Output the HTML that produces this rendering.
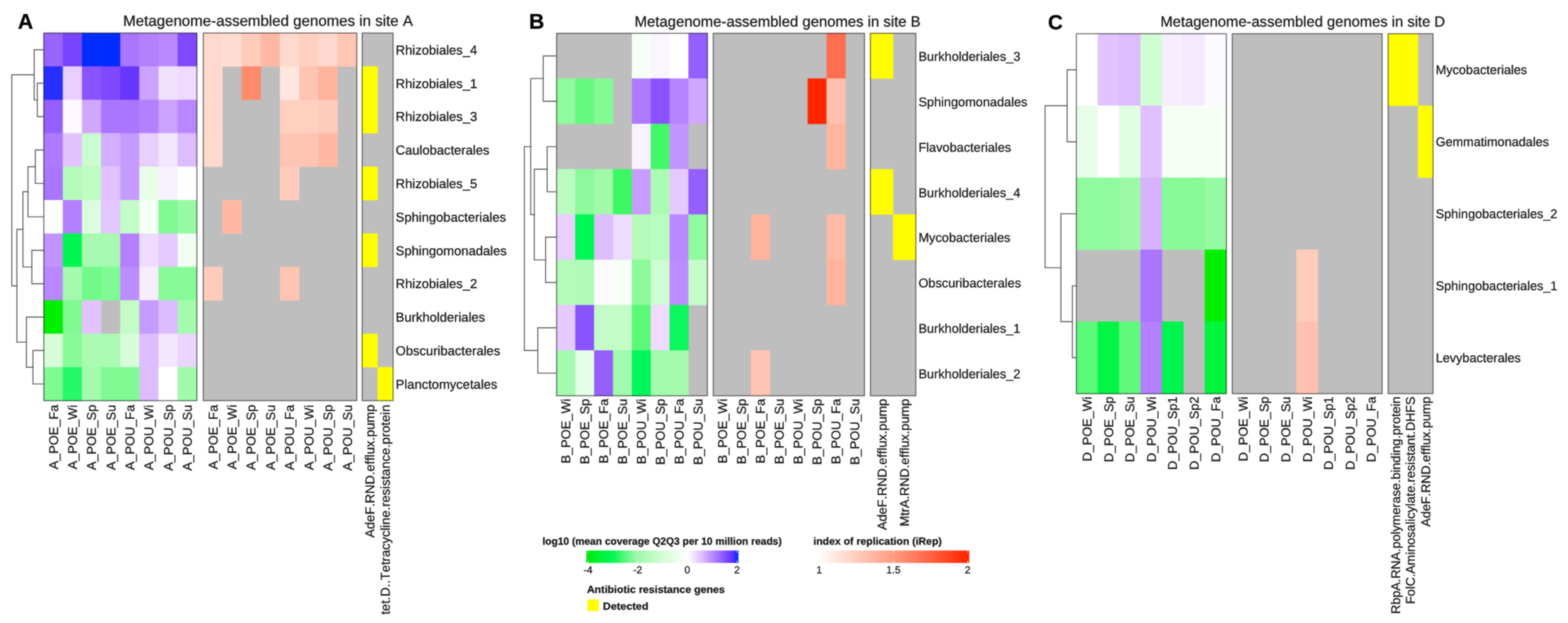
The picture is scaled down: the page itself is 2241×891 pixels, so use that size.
<!DOCTYPE html>
<html><head><meta charset="utf-8"><title>Metagenome-assembled genomes heatmaps</title>
<style>
html,body{margin:0;padding:0;background:#fff;}
body{width:2241px;height:891px;overflow:hidden;}
svg{display:block;font-family:"Liberation Sans",Arial,Helvetica,sans-serif;font-kerning:none;font-variant-ligatures:none;text-rendering:geometricPrecision;}
</style></head><body>
<svg width="2241" height="891" viewBox="0 0 2241 891">
<defs>
<linearGradient id="g1" x1="0" x2="1" y1="0" y2="0"><stop offset="0.0000" stop-color="#00e408"/><stop offset="0.0667" stop-color="#00f028"/><stop offset="0.1333" stop-color="#00f546"/><stop offset="0.1833" stop-color="#0af654"/><stop offset="0.2333" stop-color="#40f870"/><stop offset="0.2833" stop-color="#74f98e"/><stop offset="0.3333" stop-color="#9cfaa8"/><stop offset="0.5000" stop-color="#d2fdd4"/><stop offset="0.6667" stop-color="#ffffff"/><stop offset="0.7500" stop-color="#e2c4ff"/><stop offset="0.8333" stop-color="#b888ff"/><stop offset="0.9167" stop-color="#824cff"/><stop offset="0.9583" stop-color="#6232ff"/><stop offset="0.9883" stop-color="#142cff"/><stop offset="1.0000" stop-color="#002cff"/></linearGradient>
<linearGradient id="g2" x1="0" x2="1" y1="0" y2="0"><stop offset="0.0000" stop-color="#ffffff"/><stop offset="0.2500" stop-color="#ffcebe"/><stop offset="0.5000" stop-color="#ff9c82"/><stop offset="0.7500" stop-color="#ff6242"/><stop offset="0.9500" stop-color="#ff2c08"/><stop offset="1.0000" stop-color="#ff2600"/></linearGradient>
</defs>
<filter id="soft" x="0" y="0" width="2241" height="891" filterUnits="userSpaceOnUse" color-interpolation-filters="sRGB"><feGaussianBlur in="SourceGraphic" stdDeviation="0.8" result="b"/><feComposite in="b" in2="SourceGraphic" operator="arithmetic" k1="0" k2="0.6" k3="0.4" k4="0"/></filter>
<g filter="url(#soft)">
<rect x="-10" y="-10" width="2261" height="911" fill="#ffffff"/>
<rect x="62.60" y="47.30" width="218.80" height="525.70" fill="#bebebe"/>
<rect x="62.40" y="47.10" width="27.75" height="48.19" fill="#9a64ff"/>
<rect x="89.75" y="47.10" width="27.75" height="48.19" fill="#7a44ff"/>
<rect x="117.10" y="47.10" width="27.75" height="48.19" fill="#002cff"/>
<rect x="144.45" y="47.10" width="27.75" height="48.19" fill="#002cff"/>
<rect x="171.80" y="47.10" width="27.75" height="48.19" fill="#aa75ff"/>
<rect x="199.15" y="47.10" width="27.75" height="48.19" fill="#b480ff"/>
<rect x="226.50" y="47.10" width="27.75" height="48.19" fill="#ba89ff"/>
<rect x="253.85" y="47.10" width="27.75" height="48.19" fill="#8048ff"/>
<rect x="62.40" y="94.89" width="27.75" height="48.19" fill="#272eff"/>
<rect x="89.75" y="94.89" width="27.75" height="48.19" fill="#e8cfff"/>
<rect x="117.10" y="94.89" width="27.75" height="48.19" fill="#8a53ff"/>
<rect x="144.45" y="94.89" width="27.75" height="48.19" fill="#8048ff"/>
<rect x="171.80" y="94.89" width="27.75" height="48.19" fill="#6836ff"/>
<rect x="199.15" y="94.89" width="27.75" height="48.19" fill="#cba2ff"/>
<rect x="226.50" y="94.89" width="27.75" height="48.19" fill="#f0e1ff"/>
<rect x="253.85" y="94.89" width="27.75" height="48.19" fill="#eedbff"/>
<rect x="62.40" y="142.68" width="27.75" height="48.19" fill="#955eff"/>
<rect x="89.75" y="142.68" width="27.75" height="48.19" fill="#fcf9ff"/>
<rect x="117.10" y="142.68" width="27.75" height="48.19" fill="#d0a8ff"/>
<rect x="144.45" y="142.68" width="27.75" height="48.19" fill="#aa75ff"/>
<rect x="171.80" y="142.68" width="27.75" height="48.19" fill="#aa75ff"/>
<rect x="199.15" y="142.68" width="27.75" height="48.19" fill="#b480ff"/>
<rect x="226.50" y="142.68" width="27.75" height="48.19" fill="#cba2ff"/>
<rect x="253.85" y="142.68" width="27.75" height="48.19" fill="#b987ff"/>
<rect x="62.40" y="190.47" width="27.75" height="48.19" fill="#af7aff"/>
<rect x="89.75" y="190.47" width="27.75" height="48.19" fill="#e2c3ff"/>
<rect x="117.10" y="190.47" width="27.75" height="48.19" fill="#cafdce"/>
<rect x="144.45" y="190.47" width="27.75" height="48.19" fill="#d4afff"/>
<rect x="171.80" y="190.47" width="27.75" height="48.19" fill="#c69bff"/>
<rect x="199.15" y="190.47" width="27.75" height="48.19" fill="#e8cfff"/>
<rect x="226.50" y="190.47" width="27.75" height="48.19" fill="#f3e7ff"/>
<rect x="253.85" y="190.47" width="27.75" height="48.19" fill="#ddbcff"/>
<rect x="62.40" y="238.26" width="27.75" height="48.19" fill="#aa75ff"/>
<rect x="89.75" y="238.26" width="27.75" height="48.19" fill="#b4fbbb"/>
<rect x="117.10" y="238.26" width="27.75" height="48.19" fill="#befcc3"/>
<rect x="144.45" y="238.26" width="27.75" height="48.19" fill="#e2c3ff"/>
<rect x="171.80" y="238.26" width="27.75" height="48.19" fill="#c69bff"/>
<rect x="199.15" y="238.26" width="27.75" height="48.19" fill="#e8feea"/>
<rect x="226.50" y="238.26" width="27.75" height="48.19" fill="#f8f1ff"/>
<rect x="253.85" y="238.26" width="27.75" height="48.19" fill="#fdfffd"/>
<rect x="62.40" y="286.05" width="27.75" height="48.19" fill="#fafffb"/>
<rect x="89.75" y="286.05" width="27.75" height="48.19" fill="#b480ff"/>
<rect x="117.10" y="286.05" width="27.75" height="48.19" fill="#dbfddd"/>
<rect x="144.45" y="286.05" width="27.75" height="48.19" fill="#e3c5ff"/>
<rect x="171.80" y="286.05" width="27.75" height="48.19" fill="#c3fcc7"/>
<rect x="199.15" y="286.05" width="27.75" height="48.19" fill="#f6fff6"/>
<rect x="226.50" y="286.05" width="27.75" height="48.19" fill="#80fa92"/>
<rect x="253.85" y="286.05" width="27.75" height="48.19" fill="#98faa4"/>
<rect x="62.40" y="333.85" width="27.75" height="48.19" fill="#c294ff"/>
<rect x="89.75" y="333.85" width="27.75" height="48.19" fill="#00f64e"/>
<rect x="117.10" y="333.85" width="27.75" height="48.19" fill="#a7fab0"/>
<rect x="144.45" y="333.85" width="27.75" height="48.19" fill="#a7fab0"/>
<rect x="171.80" y="333.85" width="27.75" height="48.19" fill="#b480ff"/>
<rect x="199.15" y="333.85" width="27.75" height="48.19" fill="#eedbff"/>
<rect x="226.50" y="333.85" width="27.75" height="48.19" fill="#e5c9ff"/>
<rect x="253.85" y="333.85" width="27.75" height="48.19" fill="#f2fef2"/>
<rect x="62.40" y="381.64" width="27.75" height="48.19" fill="#b987ff"/>
<rect x="89.75" y="381.64" width="27.75" height="48.19" fill="#a5faae"/>
<rect x="117.10" y="381.64" width="27.75" height="48.19" fill="#72fa88"/>
<rect x="144.45" y="381.64" width="27.75" height="48.19" fill="#80fa92"/>
<rect x="171.80" y="381.64" width="27.75" height="48.19" fill="#bd8dff"/>
<rect x="199.15" y="381.64" width="27.75" height="48.19" fill="#f6edff"/>
<rect x="226.50" y="381.64" width="27.75" height="48.19" fill="#88fa98"/>
<rect x="253.85" y="381.64" width="27.75" height="48.19" fill="#88fa98"/>
<rect x="62.40" y="429.43" width="27.75" height="48.19" fill="#00f000"/>
<rect x="89.75" y="429.43" width="27.75" height="48.19" fill="#80fa92"/>
<rect x="117.10" y="429.43" width="27.75" height="48.19" fill="#e2c3ff"/>
<rect x="171.80" y="429.43" width="27.75" height="48.19" fill="#c3fcc7"/>
<rect x="199.15" y="429.43" width="27.75" height="48.19" fill="#c69bff"/>
<rect x="226.50" y="429.43" width="27.75" height="48.19" fill="#dcbbff"/>
<rect x="253.85" y="429.43" width="27.75" height="48.19" fill="#a5faae"/>
<rect x="62.40" y="477.22" width="27.75" height="48.19" fill="#d6fdd8"/>
<rect x="89.75" y="477.22" width="27.75" height="48.19" fill="#88fa98"/>
<rect x="117.10" y="477.22" width="27.75" height="48.19" fill="#abfbb3"/>
<rect x="144.45" y="477.22" width="27.75" height="48.19" fill="#abfbb3"/>
<rect x="171.80" y="477.22" width="27.75" height="48.19" fill="#d6fdd8"/>
<rect x="199.15" y="477.22" width="27.75" height="48.19" fill="#ddbcff"/>
<rect x="226.50" y="477.22" width="27.75" height="48.19" fill="#f3e7ff"/>
<rect x="253.85" y="477.22" width="27.75" height="48.19" fill="#ebd5ff"/>
<rect x="62.40" y="525.01" width="27.75" height="48.19" fill="#80fa92"/>
<rect x="89.75" y="525.01" width="27.75" height="48.19" fill="#26f869"/>
<rect x="117.10" y="525.01" width="27.75" height="48.19" fill="#a5faae"/>
<rect x="144.45" y="525.01" width="27.75" height="48.19" fill="#80fa92"/>
<rect x="171.80" y="525.01" width="27.75" height="48.19" fill="#80fa92"/>
<rect x="199.15" y="525.01" width="27.75" height="48.19" fill="#ddbcff"/>
<rect x="226.50" y="525.01" width="27.75" height="48.19" fill="#ffffff"/>
<rect x="253.85" y="525.01" width="27.75" height="48.19" fill="#a0faaa"/>
<rect x="62.60" y="47.30" width="218.80" height="525.70" fill="none" stroke="#000" stroke-opacity="0.6" stroke-width="1.4"/>
<rect x="290.50" y="47.30" width="219.50" height="525.70" fill="#bebebe"/>
<rect x="290.30" y="47.10" width="27.84" height="48.19" fill="#ffd9cd"/>
<rect x="317.74" y="47.10" width="27.84" height="48.19" fill="#ffddd2"/>
<rect x="345.18" y="47.10" width="27.84" height="48.19" fill="#ffccbb"/>
<rect x="372.61" y="47.10" width="27.84" height="48.19" fill="#ffb9a3"/>
<rect x="400.05" y="47.10" width="27.84" height="48.19" fill="#ffd9cd"/>
<rect x="427.49" y="47.10" width="27.84" height="48.19" fill="#ffd0c0"/>
<rect x="454.93" y="47.10" width="27.84" height="48.19" fill="#ffd9cd"/>
<rect x="482.36" y="47.10" width="27.84" height="48.19" fill="#ffc6b4"/>
<rect x="290.30" y="94.89" width="27.84" height="48.19" fill="#ffd9cd"/>
<rect x="345.18" y="94.89" width="27.84" height="48.19" fill="#ff8a6c"/>
<rect x="400.05" y="94.89" width="27.84" height="48.19" fill="#ffe7de"/>
<rect x="427.49" y="94.89" width="27.84" height="48.19" fill="#ffc4b2"/>
<rect x="454.93" y="94.89" width="27.84" height="48.19" fill="#ffb39c"/>
<rect x="290.30" y="142.68" width="27.84" height="48.19" fill="#ffd9cd"/>
<rect x="400.05" y="142.68" width="27.84" height="48.19" fill="#ffd0c0"/>
<rect x="427.49" y="142.68" width="27.84" height="48.19" fill="#ffd0c0"/>
<rect x="454.93" y="142.68" width="27.84" height="48.19" fill="#ffccbb"/>
<rect x="290.30" y="190.47" width="27.84" height="48.19" fill="#ffd9cd"/>
<rect x="400.05" y="190.47" width="27.84" height="48.19" fill="#ffc4b2"/>
<rect x="427.49" y="190.47" width="27.84" height="48.19" fill="#ffc4b2"/>
<rect x="454.93" y="190.47" width="27.84" height="48.19" fill="#ffb9a3"/>
<rect x="400.05" y="238.26" width="27.84" height="48.19" fill="#ffccbb"/>
<rect x="317.74" y="286.05" width="27.84" height="48.19" fill="#ffb9a3"/>
<rect x="290.30" y="381.64" width="27.84" height="48.19" fill="#ffccbb"/>
<rect x="400.05" y="381.64" width="27.84" height="48.19" fill="#ffc4b2"/>
<rect x="290.50" y="47.30" width="219.50" height="525.70" fill="none" stroke="#000" stroke-opacity="0.6" stroke-width="1.4"/>
<rect x="517.60" y="47.30" width="44.20" height="525.70" fill="#bebebe"/>
<rect x="517.40" y="94.89" width="22.50" height="48.19" fill="#fffd00"/>
<rect x="517.40" y="142.68" width="22.50" height="48.19" fill="#fffd00"/>
<rect x="517.40" y="238.26" width="22.50" height="48.19" fill="#fffd00"/>
<rect x="517.40" y="333.85" width="22.50" height="48.19" fill="#fffd00"/>
<rect x="517.40" y="477.22" width="22.50" height="48.19" fill="#fffd00"/>
<rect x="539.50" y="525.01" width="22.50" height="48.19" fill="#fffd00"/>
<rect x="517.60" y="47.30" width="44.20" height="525.70" fill="none" stroke="#000" stroke-opacity="0.6" stroke-width="1.4"/>
<path d="M62.60 118.99 L53.40 118.99 L53.40 166.78 L62.60 166.78" fill="none" stroke="#555555" stroke-width="1.4" stroke-linecap="square"/>
<path d="M62.60 71.20 L48.80 71.20 L48.80 142.88 L53.40 142.88" fill="none" stroke="#555555" stroke-width="1.4" stroke-linecap="square"/>
<path d="M62.60 214.57 L50.50 214.57 L50.50 262.36 L62.60 262.36" fill="none" stroke="#555555" stroke-width="1.4" stroke-linecap="square"/>
<path d="M50.50 238.46 L40.00 238.46 L40.00 310.15 L62.60 310.15" fill="none" stroke="#555555" stroke-width="1.4" stroke-linecap="square"/>
<path d="M62.60 357.94 L45.50 357.94 L45.50 405.73 L62.60 405.73" fill="none" stroke="#555555" stroke-width="1.4" stroke-linecap="square"/>
<path d="M40.00 274.31 L32.70 274.31 L32.70 381.84 L45.50 381.84" fill="none" stroke="#555555" stroke-width="1.4" stroke-linecap="square"/>
<path d="M62.60 501.31 L47.10 501.31 L47.10 549.10 L62.60 549.10" fill="none" stroke="#555555" stroke-width="1.4" stroke-linecap="square"/>
<path d="M62.60 453.52 L37.70 453.52 L37.70 525.21 L47.10 525.21" fill="none" stroke="#555555" stroke-width="1.4" stroke-linecap="square"/>
<path d="M32.70 328.07 L24.20 328.07 L24.20 489.37 L37.70 489.37" fill="none" stroke="#555555" stroke-width="1.4" stroke-linecap="square"/>
<path d="M48.80 107.04 L16.80 107.04 L16.80 408.72 L24.20 408.72" fill="none" stroke="#555555" stroke-width="1.4" stroke-linecap="square"/>
<text x="565.60" y="77.80" font-size="18.55" text-anchor="start" fill="#141414" stroke="#141414" stroke-width="0.3">Rhizobiales_4</text>
<text x="565.60" y="125.59" font-size="18.55" text-anchor="start" fill="#141414" stroke="#141414" stroke-width="0.3">Rhizobiales_1</text>
<text x="565.60" y="173.38" font-size="18.55" text-anchor="start" fill="#141414" stroke="#141414" stroke-width="0.3">Rhizobiales_3</text>
<text x="565.60" y="221.17" font-size="18.55" text-anchor="start" fill="#141414" stroke="#141414" stroke-width="0.3">Caulobacterales</text>
<text x="565.60" y="268.96" font-size="18.55" text-anchor="start" fill="#141414" stroke="#141414" stroke-width="0.3">Rhizobiales_5</text>
<text x="565.60" y="316.75" font-size="18.55" text-anchor="start" fill="#141414" stroke="#141414" stroke-width="0.3">Sphingobacteriales</text>
<text x="565.60" y="364.54" font-size="18.55" text-anchor="start" fill="#141414" stroke="#141414" stroke-width="0.3">Sphingomonadales</text>
<text x="565.60" y="412.33" font-size="18.55" text-anchor="start" fill="#141414" stroke="#141414" stroke-width="0.3">Rhizobiales_2</text>
<text x="565.60" y="460.12" font-size="18.55" text-anchor="start" fill="#141414" stroke="#141414" stroke-width="0.3">Burkholderiales</text>
<text x="565.60" y="507.91" font-size="18.55" text-anchor="start" fill="#141414" stroke="#141414" stroke-width="0.3">Obscuribacterales</text>
<text x="565.60" y="555.70" font-size="18.55" text-anchor="start" fill="#141414" stroke="#141414" stroke-width="0.3">Planctomycetales</text>
<text x="82.58" y="578.80" font-size="18.3" text-anchor="end" transform="rotate(-90 82.58 578.80)" fill="#141414" stroke="#141414" stroke-width="0.3">A_POE_Fa</text>
<text x="109.92" y="578.80" font-size="18.3" text-anchor="end" transform="rotate(-90 109.92 578.80)" fill="#141414" stroke="#141414" stroke-width="0.3">A_POE_Wi</text>
<text x="137.28" y="578.80" font-size="18.3" text-anchor="end" transform="rotate(-90 137.28 578.80)" fill="#141414" stroke="#141414" stroke-width="0.3">A_POE_Sp</text>
<text x="164.62" y="578.80" font-size="18.3" text-anchor="end" transform="rotate(-90 164.62 578.80)" fill="#141414" stroke="#141414" stroke-width="0.3">A_POE_Su</text>
<text x="191.97" y="578.80" font-size="18.3" text-anchor="end" transform="rotate(-90 191.97 578.80)" fill="#141414" stroke="#141414" stroke-width="0.3">A_POU_Fa</text>
<text x="219.32" y="578.80" font-size="18.3" text-anchor="end" transform="rotate(-90 219.32 578.80)" fill="#141414" stroke="#141414" stroke-width="0.3">A_POU_Wi</text>
<text x="246.67" y="578.80" font-size="18.3" text-anchor="end" transform="rotate(-90 246.67 578.80)" fill="#141414" stroke="#141414" stroke-width="0.3">A_POU_Sp</text>
<text x="274.02" y="578.80" font-size="18.3" text-anchor="end" transform="rotate(-90 274.02 578.80)" fill="#141414" stroke="#141414" stroke-width="0.3">A_POU_Su</text>
<text x="310.52" y="578.80" font-size="18.3" text-anchor="end" transform="rotate(-90 310.52 578.80)" fill="#141414" stroke="#141414" stroke-width="0.3">A_POE_Fa</text>
<text x="337.96" y="578.80" font-size="18.3" text-anchor="end" transform="rotate(-90 337.96 578.80)" fill="#141414" stroke="#141414" stroke-width="0.3">A_POE_Wi</text>
<text x="365.39" y="578.80" font-size="18.3" text-anchor="end" transform="rotate(-90 365.39 578.80)" fill="#141414" stroke="#141414" stroke-width="0.3">A_POE_Sp</text>
<text x="392.83" y="578.80" font-size="18.3" text-anchor="end" transform="rotate(-90 392.83 578.80)" fill="#141414" stroke="#141414" stroke-width="0.3">A_POE_Su</text>
<text x="420.27" y="578.80" font-size="18.3" text-anchor="end" transform="rotate(-90 420.27 578.80)" fill="#141414" stroke="#141414" stroke-width="0.3">A_POU_Fa</text>
<text x="447.71" y="578.80" font-size="18.3" text-anchor="end" transform="rotate(-90 447.71 578.80)" fill="#141414" stroke="#141414" stroke-width="0.3">A_POU_Wi</text>
<text x="475.14" y="578.80" font-size="18.3" text-anchor="end" transform="rotate(-90 475.14 578.80)" fill="#141414" stroke="#141414" stroke-width="0.3">A_POU_Sp</text>
<text x="502.58" y="578.80" font-size="18.3" text-anchor="end" transform="rotate(-90 502.58 578.80)" fill="#141414" stroke="#141414" stroke-width="0.3">A_POU_Su</text>
<text x="534.95" y="578.80" font-size="18.5" text-anchor="end" transform="rotate(-90 534.95 578.80)" fill="#141414" stroke="#141414" stroke-width="0.3">AdeF.RND.efflux.pump</text>
<text x="557.05" y="578.80" font-size="18.5" text-anchor="end" transform="rotate(-90 557.05 578.80)" fill="#141414" stroke="#141414" stroke-width="0.3">tet.D..Tetracycline.resistance.protein</text>
<text x="176.10" y="37.10" font-size="21.6" text-anchor="start" textLength="414.0" lengthAdjust="spacingAndGlyphs" fill="#141414" stroke="#141414" stroke-width="0.3">Metagenome-assembled genomes in site A</text>
<text x="25.50" y="41.30" font-size="30.4" text-anchor="start" font-weight="bold" fill="#000" stroke="#000" stroke-width="0.3">A</text>
<rect x="795.50" y="47.60" width="215.50" height="518.40" fill="#bebebe"/>
<rect x="903.05" y="47.40" width="27.34" height="65.20" fill="#f6fff6"/>
<rect x="929.99" y="47.40" width="27.34" height="65.20" fill="#faf5ff"/>
<rect x="956.92" y="47.40" width="27.34" height="65.20" fill="#ffffff"/>
<rect x="983.86" y="47.40" width="27.34" height="65.20" fill="#955eff"/>
<rect x="795.30" y="112.20" width="27.34" height="65.20" fill="#90fa9e"/>
<rect x="822.24" y="112.20" width="27.34" height="65.20" fill="#66f980"/>
<rect x="849.17" y="112.20" width="27.34" height="65.20" fill="#84fa95"/>
<rect x="903.05" y="112.20" width="27.34" height="65.20" fill="#af7aff"/>
<rect x="929.99" y="112.20" width="27.34" height="65.20" fill="#8a53ff"/>
<rect x="956.92" y="112.20" width="27.34" height="65.20" fill="#b784ff"/>
<rect x="983.86" y="112.20" width="27.34" height="65.20" fill="#d0a8ff"/>
<rect x="903.05" y="177.00" width="27.34" height="65.20" fill="#f9f3ff"/>
<rect x="929.99" y="177.00" width="27.34" height="65.20" fill="#42f868"/>
<rect x="956.92" y="177.00" width="27.34" height="65.20" fill="#c294ff"/>
<rect x="795.30" y="241.80" width="27.34" height="65.20" fill="#bcfcc1"/>
<rect x="822.24" y="241.80" width="27.34" height="65.20" fill="#8cfa9b"/>
<rect x="849.17" y="241.80" width="27.34" height="65.20" fill="#a0faaa"/>
<rect x="876.11" y="241.80" width="27.34" height="65.20" fill="#3cf864"/>
<rect x="903.05" y="241.80" width="27.34" height="65.20" fill="#c89dff"/>
<rect x="929.99" y="241.80" width="27.34" height="65.20" fill="#acfbb4"/>
<rect x="956.92" y="241.80" width="27.34" height="65.20" fill="#e5c9ff"/>
<rect x="983.86" y="241.80" width="27.34" height="65.20" fill="#955eff"/>
<rect x="795.30" y="306.60" width="27.34" height="65.20" fill="#e8cfff"/>
<rect x="822.24" y="306.60" width="27.34" height="65.20" fill="#00f756"/>
<rect x="849.17" y="306.60" width="27.34" height="65.20" fill="#ddbcff"/>
<rect x="876.11" y="306.60" width="27.34" height="65.20" fill="#eedbff"/>
<rect x="903.05" y="306.60" width="27.34" height="65.20" fill="#b4fbbb"/>
<rect x="929.99" y="306.60" width="27.34" height="65.20" fill="#b9fcbf"/>
<rect x="956.92" y="306.60" width="27.34" height="65.20" fill="#ba89ff"/>
<rect x="983.86" y="306.60" width="27.34" height="65.20" fill="#90fa9e"/>
<rect x="795.30" y="371.40" width="27.34" height="65.20" fill="#b4fbbb"/>
<rect x="822.24" y="371.40" width="27.34" height="65.20" fill="#affbb7"/>
<rect x="849.17" y="371.40" width="27.34" height="65.20" fill="#fdfbff"/>
<rect x="876.11" y="371.40" width="27.34" height="65.20" fill="#f6fff6"/>
<rect x="903.05" y="371.40" width="27.34" height="65.20" fill="#8cfa9b"/>
<rect x="929.99" y="371.40" width="27.34" height="65.20" fill="#cdfdd0"/>
<rect x="956.92" y="371.40" width="27.34" height="65.20" fill="#bd8dff"/>
<rect x="983.86" y="371.40" width="27.34" height="65.20" fill="#c6fcca"/>
<rect x="795.30" y="436.20" width="27.34" height="65.20" fill="#e5c9ff"/>
<rect x="822.24" y="436.20" width="27.34" height="65.20" fill="#8a53ff"/>
<rect x="849.17" y="436.20" width="27.34" height="65.20" fill="#c3fcc7"/>
<rect x="876.11" y="436.20" width="27.34" height="65.20" fill="#c3fcc7"/>
<rect x="903.05" y="436.20" width="27.34" height="65.20" fill="#5af978"/>
<rect x="929.99" y="436.20" width="27.34" height="65.20" fill="#eedbff"/>
<rect x="956.92" y="436.20" width="27.34" height="65.20" fill="#0cf75c"/>
<rect x="795.30" y="501.00" width="27.34" height="65.20" fill="#a5faae"/>
<rect x="822.24" y="501.00" width="27.34" height="65.20" fill="#e4fee5"/>
<rect x="849.17" y="501.00" width="27.34" height="65.20" fill="#955eff"/>
<rect x="876.11" y="501.00" width="27.34" height="65.20" fill="#a2faac"/>
<rect x="903.05" y="501.00" width="27.34" height="65.20" fill="#00f65a"/>
<rect x="929.99" y="501.00" width="27.34" height="65.20" fill="#a2faac"/>
<rect x="956.92" y="501.00" width="27.34" height="65.20" fill="#a5faae"/>
<rect x="795.50" y="47.60" width="215.50" height="518.40" fill="none" stroke="#000" stroke-opacity="0.6" stroke-width="1.4"/>
<rect x="1019.40" y="47.60" width="216.10" height="518.40" fill="#bebebe"/>
<rect x="1181.27" y="47.40" width="27.41" height="65.20" fill="#ff6f4f"/>
<rect x="1154.26" y="112.20" width="27.41" height="65.20" fill="#ff2600"/>
<rect x="1181.27" y="112.20" width="27.41" height="65.20" fill="#ffc1ad"/>
<rect x="1181.27" y="177.00" width="27.41" height="65.20" fill="#ffb59e"/>
<rect x="1073.22" y="306.60" width="27.41" height="65.20" fill="#ffb39c"/>
<rect x="1181.27" y="306.60" width="27.41" height="65.20" fill="#ffbba6"/>
<rect x="1181.27" y="371.40" width="27.41" height="65.20" fill="#ffb39c"/>
<rect x="1073.22" y="501.00" width="27.41" height="65.20" fill="#ffc4b2"/>
<rect x="1019.40" y="47.60" width="216.10" height="518.40" fill="none" stroke="#000" stroke-opacity="0.6" stroke-width="1.4"/>
<rect x="1244.00" y="47.60" width="64.90" height="518.40" fill="#bebebe"/>
<rect x="1243.80" y="47.40" width="32.85" height="65.20" fill="#fffd00"/>
<rect x="1243.80" y="241.80" width="32.85" height="65.20" fill="#fffd00"/>
<rect x="1276.25" y="306.60" width="32.85" height="65.20" fill="#fffd00"/>
<rect x="1244.00" y="47.60" width="64.90" height="518.40" fill="none" stroke="#000" stroke-opacity="0.6" stroke-width="1.4"/>
<path d="M795.50 80.00 L776.40 80.00 L776.40 144.80 L795.50 144.80" fill="none" stroke="#555555" stroke-width="1.4" stroke-linecap="square"/>
<path d="M795.50 209.60 L782.00 209.60 L782.00 274.40 L795.50 274.40" fill="none" stroke="#555555" stroke-width="1.4" stroke-linecap="square"/>
<path d="M795.50 339.20 L779.70 339.20 L779.70 404.00 L795.50 404.00" fill="none" stroke="#555555" stroke-width="1.4" stroke-linecap="square"/>
<path d="M782.00 242.00 L763.60 242.00 L763.60 371.60 L779.70 371.60" fill="none" stroke="#555555" stroke-width="1.4" stroke-linecap="square"/>
<path d="M776.40 112.40 L758.50 112.40 L758.50 306.80 L763.60 306.80" fill="none" stroke="#555555" stroke-width="1.4" stroke-linecap="square"/>
<path d="M795.50 468.80 L768.60 468.80 L768.60 533.60 L795.50 533.60" fill="none" stroke="#555555" stroke-width="1.4" stroke-linecap="square"/>
<path d="M758.50 209.60 L749.40 209.60 L749.40 501.20 L768.60 501.20" fill="none" stroke="#555555" stroke-width="1.4" stroke-linecap="square"/>
<text x="1312.70" y="87.10" font-size="18.2" text-anchor="start" fill="#141414" stroke="#141414" stroke-width="0.3">Burkholderiales_3</text>
<text x="1312.70" y="151.90" font-size="18.2" text-anchor="start" fill="#141414" stroke="#141414" stroke-width="0.3">Sphingomonadales</text>
<text x="1312.70" y="216.70" font-size="18.2" text-anchor="start" fill="#141414" stroke="#141414" stroke-width="0.3">Flavobacteriales</text>
<text x="1312.70" y="281.50" font-size="18.2" text-anchor="start" fill="#141414" stroke="#141414" stroke-width="0.3">Burkholderiales_4</text>
<text x="1312.70" y="346.30" font-size="18.2" text-anchor="start" fill="#141414" stroke="#141414" stroke-width="0.3">Mycobacteriales</text>
<text x="1312.70" y="411.10" font-size="18.2" text-anchor="start" fill="#141414" stroke="#141414" stroke-width="0.3">Obscuribacterales</text>
<text x="1312.70" y="475.90" font-size="18.2" text-anchor="start" fill="#141414" stroke="#141414" stroke-width="0.3">Burkholderiales_1</text>
<text x="1312.70" y="540.70" font-size="18.2" text-anchor="start" fill="#141414" stroke="#141414" stroke-width="0.3">Burkholderiales_2</text>
<text x="815.27" y="570.30" font-size="18.3" text-anchor="end" transform="rotate(-90 815.27 570.30)" fill="#141414" stroke="#141414" stroke-width="0.3">B_POE_Wi</text>
<text x="842.21" y="570.30" font-size="18.3" text-anchor="end" transform="rotate(-90 842.21 570.30)" fill="#141414" stroke="#141414" stroke-width="0.3">B_POE_Sp</text>
<text x="869.14" y="570.30" font-size="18.3" text-anchor="end" transform="rotate(-90 869.14 570.30)" fill="#141414" stroke="#141414" stroke-width="0.3">B_POE_Fa</text>
<text x="896.08" y="570.30" font-size="18.3" text-anchor="end" transform="rotate(-90 896.08 570.30)" fill="#141414" stroke="#141414" stroke-width="0.3">B_POE_Su</text>
<text x="923.02" y="570.30" font-size="18.3" text-anchor="end" transform="rotate(-90 923.02 570.30)" fill="#141414" stroke="#141414" stroke-width="0.3">B_POU_Wi</text>
<text x="949.96" y="570.30" font-size="18.3" text-anchor="end" transform="rotate(-90 949.96 570.30)" fill="#141414" stroke="#141414" stroke-width="0.3">B_POU_Sp</text>
<text x="976.89" y="570.30" font-size="18.3" text-anchor="end" transform="rotate(-90 976.89 570.30)" fill="#141414" stroke="#141414" stroke-width="0.3">B_POU_Fa</text>
<text x="1003.83" y="570.30" font-size="18.3" text-anchor="end" transform="rotate(-90 1003.83 570.30)" fill="#141414" stroke="#141414" stroke-width="0.3">B_POU_Su</text>
<text x="1039.21" y="570.30" font-size="18.3" text-anchor="end" transform="rotate(-90 1039.21 570.30)" fill="#141414" stroke="#141414" stroke-width="0.3">B_POE_Wi</text>
<text x="1066.22" y="570.30" font-size="18.3" text-anchor="end" transform="rotate(-90 1066.22 570.30)" fill="#141414" stroke="#141414" stroke-width="0.3">B_POE_Sp</text>
<text x="1093.23" y="570.30" font-size="18.3" text-anchor="end" transform="rotate(-90 1093.23 570.30)" fill="#141414" stroke="#141414" stroke-width="0.3">B_POE_Fa</text>
<text x="1120.24" y="570.30" font-size="18.3" text-anchor="end" transform="rotate(-90 1120.24 570.30)" fill="#141414" stroke="#141414" stroke-width="0.3">B_POE_Su</text>
<text x="1147.26" y="570.30" font-size="18.3" text-anchor="end" transform="rotate(-90 1147.26 570.30)" fill="#141414" stroke="#141414" stroke-width="0.3">B_POU_Wi</text>
<text x="1174.27" y="570.30" font-size="18.3" text-anchor="end" transform="rotate(-90 1174.27 570.30)" fill="#141414" stroke="#141414" stroke-width="0.3">B_POU_Sp</text>
<text x="1201.28" y="570.30" font-size="18.3" text-anchor="end" transform="rotate(-90 1201.28 570.30)" fill="#141414" stroke="#141414" stroke-width="0.3">B_POU_Fa</text>
<text x="1228.29" y="570.30" font-size="18.3" text-anchor="end" transform="rotate(-90 1228.29 570.30)" fill="#141414" stroke="#141414" stroke-width="0.3">B_POU_Su</text>
<text x="1266.52" y="570.30" font-size="18.25" text-anchor="end" transform="rotate(-90 1266.52 570.30)" fill="#141414" stroke="#141414" stroke-width="0.3">AdeF.RND.efflux.pump</text>
<text x="1298.98" y="570.30" font-size="18.25" text-anchor="end" transform="rotate(-90 1298.98 570.30)" fill="#141414" stroke="#141414" stroke-width="0.3">MtrA.RND.efflux.pump</text>
<text x="907.10" y="37.60" font-size="21.3" text-anchor="start" textLength="408.6" lengthAdjust="spacingAndGlyphs" fill="#141414" stroke="#141414" stroke-width="0.3">Metagenome-assembled genomes in site B</text>
<text x="756.00" y="41.30" font-size="30.4" text-anchor="start" font-weight="bold" fill="#000" stroke="#000" stroke-width="0.3">B</text>
<rect x="1538.40" y="48.30" width="214.30" height="514.70" fill="#bebebe"/>
<rect x="1538.20" y="48.10" width="31.01" height="103.34" fill="#ffffff"/>
<rect x="1568.81" y="48.10" width="31.01" height="103.34" fill="#e2c3ff"/>
<rect x="1599.43" y="48.10" width="31.01" height="103.34" fill="#ddbcff"/>
<rect x="1630.04" y="48.10" width="31.01" height="103.34" fill="#d0fdd2"/>
<rect x="1660.66" y="48.10" width="31.01" height="103.34" fill="#f6edff"/>
<rect x="1691.27" y="48.10" width="31.01" height="103.34" fill="#f5e9ff"/>
<rect x="1721.89" y="48.10" width="31.01" height="103.34" fill="#fcf9ff"/>
<rect x="1538.20" y="151.04" width="31.01" height="103.34" fill="#e8feea"/>
<rect x="1568.81" y="151.04" width="31.01" height="103.34" fill="#ffffff"/>
<rect x="1599.43" y="151.04" width="31.01" height="103.34" fill="#e0fee1"/>
<rect x="1630.04" y="151.04" width="31.01" height="103.34" fill="#e0c0ff"/>
<rect x="1660.66" y="151.04" width="31.01" height="103.34" fill="#f6fff6"/>
<rect x="1691.27" y="151.04" width="31.01" height="103.34" fill="#f6fff6"/>
<rect x="1721.89" y="151.04" width="31.01" height="103.34" fill="#f6fff6"/>
<rect x="1538.20" y="253.98" width="31.01" height="103.34" fill="#90fa9e"/>
<rect x="1568.81" y="253.98" width="31.01" height="103.34" fill="#90fa9e"/>
<rect x="1599.43" y="253.98" width="31.01" height="103.34" fill="#9cfaa7"/>
<rect x="1630.04" y="253.98" width="31.01" height="103.34" fill="#d7b3ff"/>
<rect x="1660.66" y="253.98" width="31.01" height="103.34" fill="#88fa98"/>
<rect x="1691.27" y="253.98" width="31.01" height="103.34" fill="#88fa98"/>
<rect x="1721.89" y="253.98" width="31.01" height="103.34" fill="#98faa4"/>
<rect x="1630.04" y="356.92" width="31.01" height="103.34" fill="#aa75ff"/>
<rect x="1721.89" y="356.92" width="31.01" height="103.34" fill="#00f000"/>
<rect x="1538.20" y="459.86" width="31.01" height="103.34" fill="#5af978"/>
<rect x="1568.81" y="459.86" width="31.01" height="103.34" fill="#00f544"/>
<rect x="1599.43" y="459.86" width="31.01" height="103.34" fill="#60f97c"/>
<rect x="1630.04" y="459.86" width="31.01" height="103.34" fill="#b480ff"/>
<rect x="1660.66" y="459.86" width="31.01" height="103.34" fill="#00f54c"/>
<rect x="1721.89" y="459.86" width="31.01" height="103.34" fill="#00f43a"/>
<rect x="1538.40" y="48.30" width="214.30" height="514.70" fill="none" stroke="#000" stroke-opacity="0.6" stroke-width="1.4"/>
<rect x="1761.20" y="48.30" width="214.20" height="514.70" fill="#bebebe"/>
<rect x="1852.80" y="356.92" width="31.00" height="103.34" fill="#ffccbb"/>
<rect x="1852.80" y="459.86" width="31.00" height="103.34" fill="#ffc1ad"/>
<rect x="1761.20" y="48.30" width="214.20" height="514.70" fill="none" stroke="#000" stroke-opacity="0.6" stroke-width="1.4"/>
<rect x="1984.00" y="48.30" width="64.10" height="514.70" fill="#bebebe"/>
<rect x="1983.80" y="48.10" width="21.77" height="103.34" fill="#fffd00"/>
<rect x="2005.17" y="48.10" width="21.77" height="103.34" fill="#fffd00"/>
<rect x="2026.53" y="151.04" width="21.77" height="103.34" fill="#fffd00"/>
<rect x="1984.00" y="48.30" width="64.10" height="514.70" fill="none" stroke="#000" stroke-opacity="0.6" stroke-width="1.4"/>
<path d="M1538.40 99.77 L1525.20 99.77 L1525.20 202.71 L1538.40 202.71" fill="none" stroke="#555555" stroke-width="1.4" stroke-linecap="square"/>
<path d="M1538.40 408.59 L1532.60 408.59 L1532.60 511.53 L1538.40 511.53" fill="none" stroke="#555555" stroke-width="1.4" stroke-linecap="square"/>
<path d="M1538.40 305.65 L1516.30 305.65 L1516.30 460.06 L1532.60 460.06" fill="none" stroke="#555555" stroke-width="1.4" stroke-linecap="square"/>
<path d="M1525.20 151.24 L1493.60 151.24 L1493.60 382.86 L1516.30 382.86" fill="none" stroke="#555555" stroke-width="1.4" stroke-linecap="square"/>
<text x="2051.90" y="105.97" font-size="18.1" text-anchor="start" fill="#141414" stroke="#141414" stroke-width="0.3">Mycobacteriales</text>
<text x="2051.90" y="208.91" font-size="18.1" text-anchor="start" fill="#141414" stroke="#141414" stroke-width="0.3">Gemmatimonadales</text>
<text x="2051.90" y="311.85" font-size="18.1" text-anchor="start" fill="#141414" stroke="#141414" stroke-width="0.3">Sphingobacteriales_2</text>
<text x="2051.90" y="414.79" font-size="18.1" text-anchor="start" fill="#141414" stroke="#141414" stroke-width="0.3">Sphingobacteriales_1</text>
<text x="2051.90" y="517.73" font-size="18.1" text-anchor="start" fill="#141414" stroke="#141414" stroke-width="0.3">Levybacterales</text>
<text x="1560.01" y="567.10" font-size="18.15" text-anchor="end" transform="rotate(-90 1560.01 567.10)" fill="#141414" stroke="#141414" stroke-width="0.3">D_POE_Wi</text>
<text x="1590.62" y="567.10" font-size="18.15" text-anchor="end" transform="rotate(-90 1590.62 567.10)" fill="#141414" stroke="#141414" stroke-width="0.3">D_POE_Sp</text>
<text x="1621.24" y="567.10" font-size="18.15" text-anchor="end" transform="rotate(-90 1621.24 567.10)" fill="#141414" stroke="#141414" stroke-width="0.3">D_POE_Su</text>
<text x="1651.85" y="567.10" font-size="18.15" text-anchor="end" transform="rotate(-90 1651.85 567.10)" fill="#141414" stroke="#141414" stroke-width="0.3">D_POU_Wi</text>
<text x="1682.46" y="567.10" font-size="18.15" text-anchor="end" transform="rotate(-90 1682.46 567.10)" fill="#141414" stroke="#141414" stroke-width="0.3">D_POU_Sp1</text>
<text x="1713.08" y="567.10" font-size="18.15" text-anchor="end" transform="rotate(-90 1713.08 567.10)" fill="#141414" stroke="#141414" stroke-width="0.3">D_POU_Sp2</text>
<text x="1743.69" y="567.10" font-size="18.15" text-anchor="end" transform="rotate(-90 1743.69 567.10)" fill="#141414" stroke="#141414" stroke-width="0.3">D_POU_Fa</text>
<text x="1782.80" y="567.10" font-size="18.15" text-anchor="end" transform="rotate(-90 1782.80 567.10)" fill="#141414" stroke="#141414" stroke-width="0.3">D_POE_Wi</text>
<text x="1813.40" y="567.10" font-size="18.15" text-anchor="end" transform="rotate(-90 1813.40 567.10)" fill="#141414" stroke="#141414" stroke-width="0.3">D_POE_Sp</text>
<text x="1844.00" y="567.10" font-size="18.15" text-anchor="end" transform="rotate(-90 1844.00 567.10)" fill="#141414" stroke="#141414" stroke-width="0.3">D_POE_Su</text>
<text x="1874.60" y="567.10" font-size="18.15" text-anchor="end" transform="rotate(-90 1874.60 567.10)" fill="#141414" stroke="#141414" stroke-width="0.3">D_POU_Wi</text>
<text x="1905.20" y="567.10" font-size="18.15" text-anchor="end" transform="rotate(-90 1905.20 567.10)" fill="#141414" stroke="#141414" stroke-width="0.3">D_POU_Sp1</text>
<text x="1935.80" y="567.10" font-size="18.15" text-anchor="end" transform="rotate(-90 1935.80 567.10)" fill="#141414" stroke="#141414" stroke-width="0.3">D_POU_Sp2</text>
<text x="1966.40" y="567.10" font-size="18.15" text-anchor="end" transform="rotate(-90 1966.40 567.10)" fill="#141414" stroke="#141414" stroke-width="0.3">D_POU_Fa</text>
<text x="2000.98" y="567.10" font-size="18.1" text-anchor="end" transform="rotate(-90 2000.98 567.10)" fill="#141414" stroke="#141414" stroke-width="0.3">RbpA.RNA.polymerase.binding.protein</text>
<text x="2022.35" y="567.10" font-size="18.1" text-anchor="end" transform="rotate(-90 2022.35 567.10)" fill="#141414" stroke="#141414" stroke-width="0.3">FolC.Aminosalicylate.resistant.DHFS</text>
<text x="2043.72" y="567.10" font-size="18.1" text-anchor="end" transform="rotate(-90 2043.72 567.10)" fill="#141414" stroke="#141414" stroke-width="0.3">AdeF.RND.efflux.pump</text>
<text x="1658.50" y="37.70" font-size="21.2" text-anchor="start" textLength="406.8" lengthAdjust="spacingAndGlyphs" fill="#141414" stroke="#141414" stroke-width="0.3">Metagenome-assembled genomes in site D</text>
<text x="1497.70" y="41.80" font-size="29.5" text-anchor="start" font-weight="bold" fill="#000" stroke="#000" stroke-width="0.3">C</text>
<text x="775.30" y="778.60" font-size="14.8" text-anchor="start" font-weight="bold" textLength="342.0" lengthAdjust="spacingAndGlyphs" fill="#141414" stroke="#141414" stroke-width="0.3">log10 (mean coverage Q2Q3 per 10 million reads)</text>
<rect x="838.00" y="787.30" width="217.40" height="17.80" fill="url(#g1)"/>
<path d="M840.50 787.3 v3.6 M840.50 805.0999999999999 v-3.6" stroke="#ffffff" stroke-width="0.9" opacity="0.85" fill="none"/>
<text x="840.50" y="820.20" font-size="14.6" text-anchor="middle" fill="#141414" stroke="#141414" stroke-width="0.3">-4</text>
<path d="M911.40 787.3 v3.6 M911.40 805.0999999999999 v-3.6" stroke="#ffffff" stroke-width="0.9" opacity="0.85" fill="none"/>
<text x="911.40" y="820.20" font-size="14.6" text-anchor="middle" fill="#141414" stroke="#141414" stroke-width="0.3">-2</text>
<path d="M982.30 787.3 v3.6 M982.30 805.0999999999999 v-3.6" stroke="#ffffff" stroke-width="0.9" opacity="0.85" fill="none"/>
<text x="982.30" y="820.20" font-size="14.6" text-anchor="middle" fill="#141414" stroke="#141414" stroke-width="0.3">0</text>
<path d="M1053.20 787.3 v3.6 M1053.20 805.0999999999999 v-3.6" stroke="#ffffff" stroke-width="0.9" opacity="0.85" fill="none"/>
<text x="1053.20" y="820.20" font-size="14.6" text-anchor="middle" fill="#141414" stroke="#141414" stroke-width="0.3">2</text>
<text x="1162.60" y="778.60" font-size="14.8" text-anchor="start" font-weight="bold" textLength="183.4" lengthAdjust="spacingAndGlyphs" fill="#141414" stroke="#141414" stroke-width="0.3">index of replication (iRep)</text>
<rect x="1168.30" y="787.30" width="217.00" height="17.80" fill="url(#g2)"/>
<path d="M1170.70 787.3 v3.6 M1170.70 805.0999999999999 v-3.6" stroke="#ffffff" stroke-width="0.9" opacity="0.85" fill="none"/>
<text x="1170.70" y="820.20" font-size="14.6" text-anchor="middle" fill="#141414" stroke="#141414" stroke-width="0.3">1</text>
<path d="M1276.90 787.3 v3.6 M1276.90 805.0999999999999 v-3.6" stroke="#ffffff" stroke-width="0.9" opacity="0.85" fill="none"/>
<text x="1276.90" y="820.20" font-size="14.6" text-anchor="middle" fill="#141414" stroke="#141414" stroke-width="0.3">1.5</text>
<path d="M1383.10 787.3 v3.6 M1383.10 805.0999999999999 v-3.6" stroke="#ffffff" stroke-width="0.9" opacity="0.85" fill="none"/>
<text x="1383.10" y="820.20" font-size="14.6" text-anchor="middle" fill="#141414" stroke="#141414" stroke-width="0.3">2</text>
<text x="838.90" y="848.00" font-size="14.8" text-anchor="start" font-weight="bold" textLength="197.0" lengthAdjust="spacingAndGlyphs" fill="#141414" stroke="#141414" stroke-width="0.3">Antibiotic resistance genes</text>
<rect x="839.60" y="857.40" width="16.20" height="16.60" fill="#fffd00"/>
<text x="861.80" y="872.30" font-size="14.8" text-anchor="start" font-weight="bold" textLength="65.0" lengthAdjust="spacingAndGlyphs" fill="#141414" stroke="#141414" stroke-width="0.3">Detected</text>
</g>
</svg>
</body></html>
